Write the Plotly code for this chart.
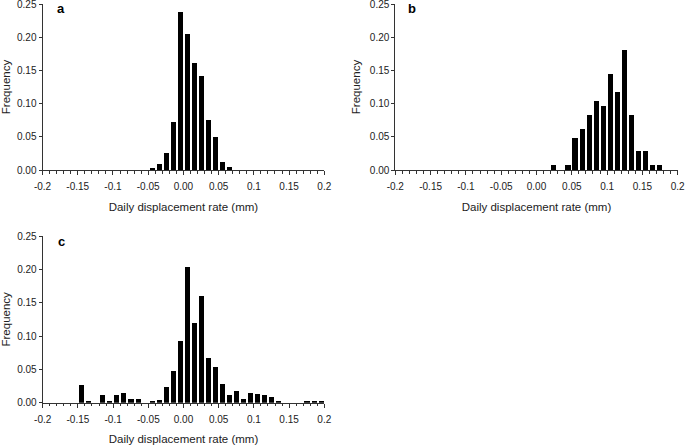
import plotly.graph_objects as go

# ---- data ----
bins_a = [-0.045, -0.035, -0.025, -0.015, -0.005, 0.005, 0.015, 0.025, 0.035, 0.045, 0.055, 0.065]
freq_a = [0.003, 0.009, 0.026, 0.073, 0.238, 0.205, 0.161, 0.141, 0.075, 0.049, 0.012, 0.004]

bins_b = [0.025, 0.045, 0.055, 0.065, 0.075, 0.085, 0.095, 0.105, 0.115, 0.125, 0.135, 0.145, 0.155, 0.165, 0.175]
freq_b = [0.007, 0.007, 0.048, 0.062, 0.083, 0.104, 0.097, 0.145, 0.118, 0.180, 0.083, 0.028, 0.028, 0.007, 0.007]

bins_c = [-0.145, -0.135, -0.115, -0.105, -0.095, -0.085, -0.075, -0.065, -0.045, -0.035,
          -0.025, -0.015, -0.005, 0.005, 0.015, 0.025, 0.035, 0.045, 0.055, 0.065,
          0.075, 0.085, 0.095, 0.105, 0.115, 0.125, 0.135, 0.175, 0.185, 0.195]
freq_c = [0.026, 0.002, 0.011, 0.002, 0.011, 0.015, 0.006, 0.006, 0.002, 0.004,
          0.024, 0.047, 0.092, 0.204, 0.120, 0.160, 0.067, 0.054, 0.028, 0.011,
          0.017, 0.006, 0.015, 0.013, 0.011, 0.009, 0.002, 0.002, 0.002, 0.002]

x_tickvals = [-0.2, -0.15, -0.1, -0.05, 0.0, 0.05, 0.1, 0.15, 0.2]
x_ticktext = ["-0.2", "-0.15", "-0.1", "-0.05", "0.00", "0.05", "0.1", "0.15", "0.2"]
y_tickvals = [0.0, 0.05, 0.10, 0.15, 0.20, 0.25]
y_ticktext = ["0.00", "0.05", "0.10", "0.15", "0.20", "0.25"]
panel_labels = ["a", "b", "c"]
x_title = "Daily displacement rate (mm)"
y_title = "Frequency"

W, H = 685, 445
FONT = "Liberation Sans, Arial, sans-serif"
TXT = "#222222"
LINE = "#333333"

fig = go.Figure()
for i, (bx, fy) in enumerate([(bins_a, freq_a), (bins_b, freq_b), (bins_c, freq_c)]):
    sfx = "" if i == 0 else str(i + 1)
    fig.add_trace(go.Bar(x=bx, y=fy, width=0.0072, marker=dict(color="black", line=dict(width=0)),
                         xaxis="x" + sfx, yaxis="y" + sfx, showlegend=False))

def px_x(p):
    return p / W

def px_y(p):
    return 1 - p / H

domains = [
    ((42.5, 324.3), (170.0, 4.0)),
    ((395.3, 677.7), (170.0, 4.0)),
    ((42.7, 324.3), (402.7, 236.0)),
]

for i, ((x0, x1), (yb, yt)) in enumerate(domains):
    sfx = "" if i == 0 else str(i + 1)
    fig.layout["xaxis" + sfx] = dict(
        domain=[px_x(x0), px_x(x1)], range=[-0.2, 0.2], anchor="y" + sfx,
        automargin=False, ticklabeloverflow="allow", ticklabelstandoff=3,
        showline=True, linecolor=LINE, linewidth=1, showgrid=False, zeroline=False,
        ticks="outside", ticklen=4, tickwidth=1, tickcolor=LINE,
        tickvals=x_tickvals, ticktext=x_ticktext,
        tickfont=dict(family=FONT, size=10, color=TXT),
        minor=dict(ticks="outside", ticklen=2.5, tickwidth=1, tickcolor=LINE, dtick=0.01, tick0=0, showgrid=False),
        title=dict(text=x_title, font=dict(family=FONT, size=11.5, color=TXT), standoff=11),
        fixedrange=True,
    )
    fig.layout["yaxis" + sfx] = dict(
        domain=[px_y(yb), px_y(yt)], range=[0, 0.25], anchor="x" + sfx,
        automargin=False, ticklabeloverflow="allow",
        showline=True, linecolor=LINE, linewidth=1, showgrid=False, zeroline=False,
        ticks="outside", ticklen=3, tickwidth=1, tickcolor=LINE,
        tickvals=y_tickvals, ticktext=y_ticktext,
        tickfont=dict(family=FONT, size=10, color=TXT),
        title=dict(text=y_title, font=dict(family=FONT, size=11.5, color=TXT), standoff=6),
        fixedrange=True,
    )

label_pos = [(61, 9), (412, 9), (61, 241)]
for lab, (lx, ly) in zip(panel_labels, label_pos):
    fig.add_annotation(x=px_x(lx), y=px_y(ly), xref="paper", yref="paper", text="<b>%s</b>" % lab,
                       showarrow=False, font=dict(family=FONT, size=13, color="black"),
                       xanchor="center", yanchor="middle")

fig.update_layout(
    width=W, height=H, margin=dict(l=0, r=0, t=0, b=0),
    paper_bgcolor="white", plot_bgcolor="white", bargap=0,
)

fig.write_html("out.html", config={"displayModeBar": False},
               post_script="document.body.style.margin='0';document.body.style.overflow='hidden';")
